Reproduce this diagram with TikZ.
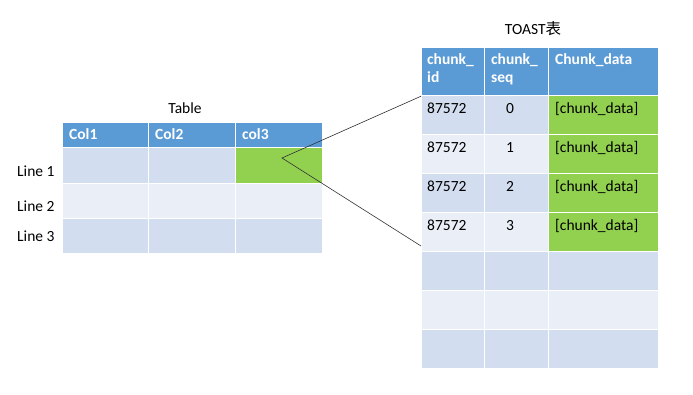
\documentclass[tikz,border=0pt]{standalone}
\usepackage{fontspec}
\setmainfont{Carlito}
\newfontfamily\cjk{Noto Sans CJK SC}
\definecolor{hdrblue}{HTML}{5B9BD5}
\definecolor{rowdark}{HTML}{D2DEEF}
\definecolor{rowlight}{HTML}{EAEFF7}
\definecolor{cellgreen}{HTML}{92D050}
\tikzset{
	cell/.style 2 args={draw=white,line width=1.2pt,anchor=north west,inner sep=0pt,minimum width=#1pt,minimum height=#2pt},
	txt/.style={anchor=base west,inner sep=0pt},
	hdrtxt/.style={txt,text=white,font=\fontsize{15.5}{18}\selectfont\bfseries}
}
\begin{document}
\begin{tikzpicture}[x=1pt,y=-1pt,font=\fontsize{15.5}{18}\selectfont]
	\useasboundingbox (0,0) rectangle (693,395);
	% Table
	\node[anchor=base] (ttitle) at (185,114) {Table};
	\node[cell={86}{25},fill=hdrblue] (lh1) at (62,122) {};
	\node[cell={87}{25},fill=hdrblue] (lh2) at (148,122) {};
	\node[cell={87}{25},fill=hdrblue] (lh3) at (235,122) {};
	\node[cell={86}{36},fill=rowdark] (l11) at (62,147) {};
	\node[cell={87}{36},fill=rowdark] (l12) at (148,147) {};
	\node[cell={87}{36},fill=cellgreen] (l13) at (235,147) {};
	\node[cell={86}{35},fill=rowlight] (l21) at (62,183) {};
	\node[cell={87}{35},fill=rowlight] (l22) at (148,183) {};
	\node[cell={87}{35},fill=rowlight] (l23) at (235,183) {};
	\node[cell={86}{35},fill=rowdark] (l31) at (62,218) {};
	\node[cell={87}{35},fill=rowdark] (l32) at (148,218) {};
	\node[cell={87}{35},fill=rowdark] (l33) at (235,218) {};
	\node[hdrtxt] (col1) at (69,140) {Col1};
	\node[hdrtxt] (col2) at (155,140) {Col2};
	\node[hdrtxt] (col3) at (242,140) {col3};
	\node[txt] (line1) at (17,177) {Line 1};
	\node[txt] (line2) at (17,212) {Line 2};
	\node[txt] (line3) at (17,242) {Line 3};
	% TOAST
	\node[anchor=base] (tstitle) at (533,35) {TOAST{\cjk 表}};
	\node[cell={63}{48},fill=hdrblue] (rh1) at (421,47) {};
	\node[cell={64}{48},fill=hdrblue] (rh2) at (484,47) {};
	\node[cell={110}{48},fill=hdrblue] (rh3) at (548,47) {};
	\node[cell={63}{39},fill=rowdark] (r11) at (421,95) {};
	\node[cell={64}{39},fill=rowdark] (r12) at (484,95) {};
	\node[cell={110}{39},fill=cellgreen] (r13) at (548,95) {};
	\node[cell={63}{39},fill=rowlight] (r21) at (421,134) {};
	\node[cell={64}{39},fill=rowlight] (r22) at (484,134) {};
	\node[cell={110}{39},fill=cellgreen] (r23) at (548,134) {};
	\node[cell={63}{39},fill=rowdark] (r31) at (421,173) {};
	\node[cell={64}{39},fill=rowdark] (r32) at (484,173) {};
	\node[cell={110}{39},fill=cellgreen] (r33) at (548,173) {};
	\node[cell={63}{39},fill=rowlight] (r41) at (421,212) {};
	\node[cell={64}{39},fill=rowlight] (r42) at (484,212) {};
	\node[cell={110}{39},fill=cellgreen] (r43) at (548,212) {};
	\node[cell={63}{39},fill=rowdark] (r51) at (421,251) {};
	\node[cell={64}{39},fill=rowdark] (r52) at (484,251) {};
	\node[cell={110}{39},fill=rowdark] (r53) at (548,251) {};
	\node[cell={63}{39},fill=rowlight] (r61) at (421,290) {};
	\node[cell={64}{39},fill=rowlight] (r62) at (484,290) {};
	\node[cell={110}{39},fill=rowlight] (r63) at (548,290) {};
	\node[cell={63}{39},fill=rowdark] (r71) at (421,329) {};
	\node[cell={64}{39},fill=rowdark] (r72) at (484,329) {};
	\node[cell={110}{39},fill=rowdark] (r73) at (548,329) {};
	\node[hdrtxt] (hid1) at (427,65) {chunk\_};
	\node[hdrtxt] (hid2) at (427,83) {id};
	\node[hdrtxt] (hseq1) at (491,65) {chunk\_};
	\node[hdrtxt] (hseq2) at (491,83) {seq};
	\node[hdrtxt] (hdata) at (555,65) {Chunk\_data};
	\node[txt] (id1) at (427,114) {87572};
	\node[txt] (id2) at (427,153) {87572};
	\node[txt] (id3) at (427,192) {87572};
	\node[txt] (id4) at (427,231) {87572};
	\node[anchor=base,inner sep=0pt] (seq1) at (510,114) {0};
	\node[anchor=base,inner sep=0pt] (seq2) at (510,153) {1};
	\node[anchor=base,inner sep=0pt] (seq3) at (510,192) {2};
	\node[anchor=base,inner sep=0pt] (seq4) at (510,231) {3};
	\node[txt] (data1) at (555,114) {[chunk\_data]};
	\node[txt] (data2) at (555,153) {[chunk\_data]};
	\node[txt] (data3) at (555,192) {[chunk\_data]};
	\node[txt] (data4) at (555,231) {[chunk\_data]};
	% link
	\coordinate (v) at (282,158);
	\coordinate (vbot) at (421,246);
	\draw[gray!40!black,line width=0.6pt] (rh1.south west) -- (v) -- (vbot);
\end{tikzpicture}
\end{document}
